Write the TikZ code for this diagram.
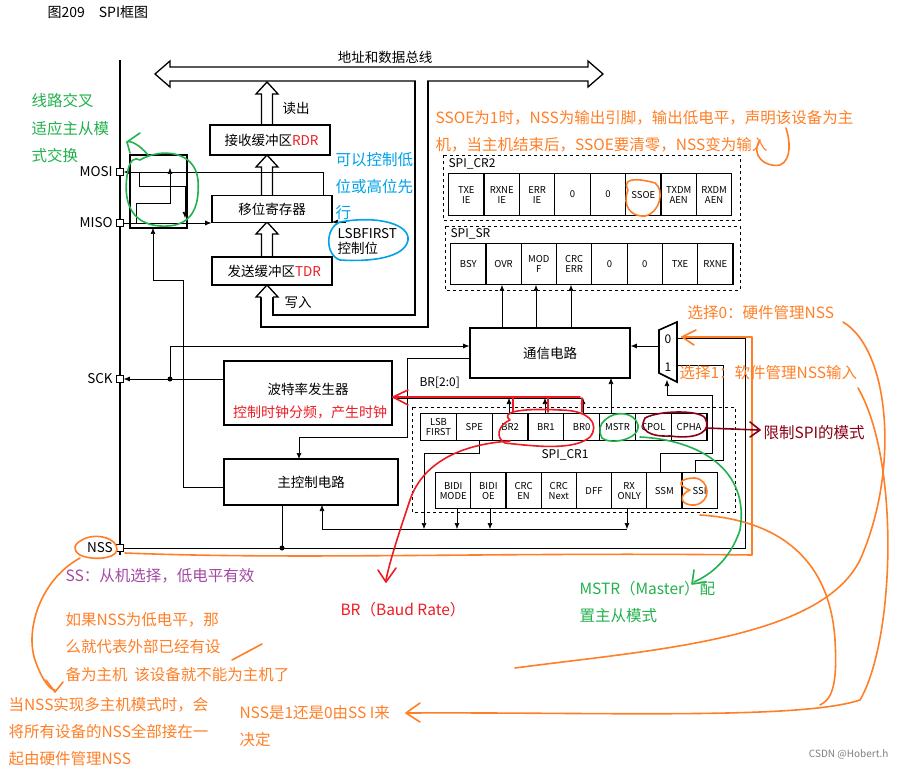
\documentclass[tikz,border=0pt]{standalone}
\usepackage{fontspec}
\setmainfont{Noto Sans CJK SC}
\usetikzlibrary{arrows.meta}
\definecolor{org}{HTML}{FF7F27}
\definecolor{grn}{HTML}{22B14C}
\definecolor{blu}{HTML}{00A2E8}
\definecolor{rd}{HTML}{ED1C24}
\definecolor{pur}{HTML}{A349A4}
\definecolor{drd}{HTML}{880015}
\newcommand\hollowup[3]{\draw[line width=1.3pt,fill=white] (#1-5.5,#2) -- (#1-5.5,#3+12) -- (#1-11,#3+12) -- (#1,#3) -- (#1+11,#3+12) -- (#1+5.5,#3+12) -- (#1+5.5,#2);}
\newcommand\cellrow[5]{% x0, y0, w, h, list
  \foreach \t [count=\i from 0] in {#5}{%
    \node[cell,minimum width=#3pt,minimum height=#4pt,anchor=north west] at (#1+\i*#3,#2) {\t};}}
\begin{document}
\begin{tikzpicture}[x=1pt,y=-1pt,
  box/.style={draw,line width=1.6pt,fill=white,inner sep=0pt},
  lbl/.style={font=\fontsize{13.5}{15}\selectfont},
  cell/.style={draw,line width=1.2pt,inner sep=0pt,align=center,font=\fontsize{9.5}{10}\selectfont},
  dashbox/.style={draw,dashed,line width=0.6pt},
  ln/.style={line width=0.6pt},
  ar/.style={ln,-{Latex[length=6pt,width=5pt]}},
  pin/.style={draw,fill=white,line width=0.6pt,minimum size=7pt,inner sep=0pt},
  ann/.style={font=\fontsize{15.5}{17}\selectfont,anchor=west},
  fh/.style={line width=1.6pt,line cap=round,line join=round}]
\useasboundingbox (0,0) rectangle (900,770);
\fill[white] (0,0) rectangle (900,770);
\node[anchor=west,font=\fontsize{14}{16}\selectfont] (title) at (44,12) {图209\quad SPI框图};
% left bar
\draw[line width=1.4pt] (120,60) -- (120,555);
% bus
\node[lbl] (bus) at (385,57) {地址和数据总线};
\draw[line width=1.3pt,fill=white] (155,74) -- (170,61) -- (170,67) -- (588,67) -- (588,61) -- (603,74) -- (588,87) -- (588,81) -- (170,81) -- (170,87) -- cycle;
% write pipe
\draw[line width=1.3pt] (261,297) -- (261,327) -- (428,327) -- (428,81);
\draw[line width=1.3pt] (273,297) -- (273,315) -- (415,315) -- (415,81);
\draw[line width=1.3pt,fill=white] (261,297) -- (256,297) -- (267,285) -- (278,297) -- (273,297);
\fill[white] (416,79) rectangle (427,83);
\hollowup{267}{125}{82}
\hollowup{267}{196}{155}
\hollowup{267}{257}{222}
\node[lbl] (rd) at (296,108) {读出};
\node[lbl] (wr) at (298,302) {写入};
% register boxes
\node[box,minimum width=120pt,minimum height=30pt] (rdr) at (270,140) {};
\node[box,minimum width=120pt,minimum height=27pt,lbl] (sr) at (272,209) {移位寄存器};
\node[box,minimum width=120pt,minimum height=28pt] (tdr) at (272,271) {};
\node[lbl,anchor=west] (rdrt) at (221,140) {接收缓冲区\textcolor{rd}{RDR}};
\node[lbl,anchor=west] (tdrt) at (224,271) {发送缓冲区\textcolor{rd}{TDR}};
% cross box
\node[box,minimum width=57pt,minimum height=73pt] (cx) at (158.5,191.5) {};
\node[pin,label={[lbl]left:MOSI}] (mosi) at (120,172) {};
\node[pin,label={[lbl]left:MISO}] (miso) at (120,223) {};
\node[pin,label={[lbl]left:SCK}] (sck) at (120,379) {};
\node[pin,label={[lbl]left:NSS}] (nss) at (120,548) {};
\coordinate (c1) at (323,172);
\draw[ar] (323,196) -- (c1) -- (mosi.east) ;
\draw[ar] (miso.east) -- (sr.west |- miso);
\draw[ar] (136,223) -- (136,203) -- (170,203) -- (170,168);
\draw[ar] (139,173) -- (139,186) -- (185,186) -- (185,218);
\coordinate (lsbin) at (346,222);
\draw[ar] (lsbin) -- (332,222);
\node[lbl,align=left,anchor=west] (lsb) at (334,241) {LSBFIRST\\控制位};
\draw[ar] (183,487) -- (183,280) -- (153,280) -- (153,228);
% baud, main ctrl, comm
\node[box,minimum width=168pt,minimum height=64pt,lbl] (baud) at (308,393) {\raisebox{8pt}{波特率发生器}};
\node[box,minimum width=174pt,minimum height=46pt,lbl] (mc) at (311,482) {主控制电路};
\node[box,minimum width=160pt,minimum height=50pt,lbl] (com) at (550,353) {通信电路};
\draw[ar] (baud.west |- sck) -- (sck.east);
\fill (170,379) circle (2.5pt);
\draw[ar] (170,379) -- (170,346) -- (com.west |- 0,346);
\draw[ln] (183,487) -- (mc.west |- 0,487);
\draw[ln] (nss.east) -- (745,548) -- (745,338);
\fill (282,548) circle (2.5pt);
\draw[ln] (282,505) -- (282,548);
\draw[ar] (470,358) -- (407,358) -- (407,437) -- (299,437) -- (299,459);
% mux
\draw[line width=1.6pt,fill=white] (659,330) -- (677,322) -- (677,382) -- (659,373) -- cycle;
\node[font=\fontsize{12}{12}\selectfont] (m0) at (668,339) {0};
\node[font=\fontsize{12}{12}\selectfont] (m1) at (668,367) {1};
\draw[ar] (659,346) -- (com.east |- 0,346);
\draw[ln] (745,338) -- (677,338);
% CR2
\draw[dashbox] (443,155) rectangle (740,220);
\node[anchor=west,font=\fontsize{12}{12}\selectfont] (cr2) at (445,164) {SPI\_CR2};
\cellrow{448}{173}{35.4}{42}{{TXE\\IE},{RXNE\\IE},{ERR\\IE},0,0,SSOE,{TXDM\\AEN},{RXDM\\AEN}}
% SR
\draw[dashbox] (445,226) rectangle (740,290);
\node[anchor=west,font=\fontsize{12}{12}\selectfont] (srl) at (447,234) {SPI\_SR};
\cellrow{450}{243}{35.3}{41}{BSY,OVR,{MOD\\F},{CRC\\ERR},0,0,TXE,RXNE}
\foreach \x in {502,536,571} \draw[ar] (\x,328) -- (\x,285);
% CR1
\draw[dashbox] (412,407) rectangle (735,512);
\node[font=\fontsize{12}{12}\selectfont] (cr1) at (565,455) {SPI\_CR1};
\cellrow{420}{413}{35.8}{27}{{LSB\\FIRST},SPE,BR2,BR1,BR0,MSTR,CPOL,CPHA}
\cellrow{435}{472}{35.2}{36}{{BIDI\\MODE},{BIDI\\OE},{CRC\\EN},{CRC\\Next},DFF,{RX\\ONLY},SSM,SSI}
\draw[ar] (611,413) -- (611,378);
\node[anchor=west,font=\fontsize{12}{12}\selectfont] (brl) at (416,383) {BR[2:0]};
\draw[ar] (583,398) -- (baud.east |- 0,398);
\foreach \x in {509,545,583} \draw[ar] (\x,413) -- (\x,398);
\draw[ar] (479,440) -- (479,453) -- (424,453) -- (424,529);
\draw[ar] (457,508) -- (457,529);
\draw[ar] (490,508) -- (490,529);
\draw[ar] (627,508) -- (627,529);
\draw[ar] (627,529) -- (322,529) -- (322,505);
\draw[ar] (660,472) -- (660,453) -- (712,453) -- (712,395) -- (667,395) -- (667,380);
\draw[ln] (695,472) -- (695,460) -- (723,460) -- (723,365) -- (677,365);
% ---------- annotations ----------
\node[ann,text=grn] (g1) at (28,101) {线路交叉};
\node[ann,text=grn] (g2) at (28,129) {适应主从模};
\node[ann,text=grn] (g3) at (28,156) {式交换};
\draw[fh,grn] (140,160) .. controls (160,148) and (195,150) .. (198,180) .. controls (200,210) and (190,228) .. (160,226) .. controls (130,224) and (122,200) .. (128,170) .. controls (130,160) and (135,157) .. (140,160);
\draw[fh,grn] (148,155) .. controls (140,145) and (130,140) .. (127,142);
\draw[fh,grn] (127,142) -- (140,133);
\draw[fh,grn] (127,142) -- (130,153);
\node[ann,text=blu] (b1) at (332,160) {可以控制低};
\node[ann,text=blu] (b2) at (332,187) {位或高位先};
\node[ann,text=blu] (b3) at (332,213) {行};
\draw[fh,blu] (340,222) .. controls (380,215) and (410,225) .. (408,240) .. controls (405,258) and (370,262) .. (340,260) .. controls (325,255) and (325,228) .. (340,222);
\node[ann,text=org] (o1) at (432,118) {SSOE为1时，NSS为输出引脚，输出低电平，声明该设备为主};
\node[ann,text=org] (o2) at (432,145) {机，当主机结束后，SSOE要清零，NSS变为输入};
\draw[fh,org] (760,140) .. controls (750,155) and (765,168) .. (780,165) .. controls (792,160) and (790,140) .. (786,128);
\draw[fh,org] (628,190) .. controls (620,175) and (645,180) .. (655,183) .. controls (665,190) and (660,213) .. (645,216) .. controls (630,217) and (622,205) .. (628,190);
\draw[fh,org] (690,490) .. controls (675,485) and (680,478) .. (695,478) .. controls (710,480) and (712,502) .. (695,505) .. controls (680,506) and (678,495) .. (690,490);
\node[ann,text=org] (s0) at (684,313) {选择0：硬件管理NSS};
\node[ann,text=org] (s1) at (676,373) {选择1：软件管理NSS输入};
\draw[fh,org] (82,540) .. controls (95,532) and (118,538) .. (117,550) .. controls (115,560) and (90,560) .. (80,555) .. controls (72,550) and (74,544) .. (82,540);
\draw[fh,org] (125,553) .. controls (300,560) and (500,552) .. (752,555) -- (752,337) -- (682,337);
\draw[fh,org] (696,330) -- (682,337) -- (694,345);
\draw[fh,org] (843,322) .. controls (890,350) and (900,470) .. (860,560) .. controls (820,640) and (650,650) .. (515,668);
\draw[fh,org] (858,388) .. controls (900,460) and (895,640) .. (860,700) .. controls (800,720) and (600,712) .. (408,713);
\draw[fh,org] (420,703) -- (406,713) -- (420,722);
\draw[fh,org] (700,515) .. controls (780,520) and (830,560) .. (835,640) .. controls (838,690) and (830,700) .. (820,705);
\draw[fh,org] (80,558) .. controls (40,580) and (25,630) .. (35,660) .. controls (42,680) and (50,690) .. (55,690);
\draw[fh,org] (46,680) -- (55,692) -- (63,682);
\draw[fh,org] (232,660) -- (262,644);
\node[ann,text=pur] (pp) at (62,576) {SS：从机选择，低电平有效};
\node[ann,text=org] (o3) at (62,620) {如果NSS为低电平，那};
\node[ann,text=org] (o4) at (62,647) {么就代表外部已经有设};
\node[ann,text=org] (o5) at (62,675) {备为主机\ \ 该设备就不能为主机了};
\node[ann,text=org] (o6) at (5,705) {当NSS实现多主机模式时，会};
\node[ann,text=org] (o7) at (5,732) {将所有设备的NSS全部接在一};
\node[ann,text=org] (o8) at (5,759) {起由硬件管理NSS};
\node[ann,text=org] (o9) at (236,713) {NSS是1还是0由SS I来};
\node[ann,text=org] (o10) at (236,740) {决定};
% red
\node[text=rd,font=\fontsize{14}{16}\selectfont,anchor=center] (rb) at (310,412) {控制时钟分频，产生时钟};
\draw[fh,rd] (510,420) .. controls (500,412) and (520,408) .. (560,410) .. controls (590,410) and (600,425) .. (590,437) .. controls (575,450) and (540,447) .. (505,443) .. controls (495,438) and (498,425) .. (510,420);
\draw[fh,rd] (393,397) -- (580,397);
\draw[fh,rd] (408,390) -- (393,397) -- (408,405);
\foreach \x in {513,548,582} \draw[fh,rd] (\x,412) -- (\x,398);
\draw[fh,rd] (510,441) .. controls (450,445) and (420,470) .. (410,500) .. controls (400,530) and (390,560) .. (386,580);
\draw[fh,rd] (378,570) -- (386,582) -- (396,568);
\node[ann,text=rd,anchor=center] (br) at (403,610) {BR（Baud Rate）};
% green MSTR
\draw[fh,grn] (605,420) .. controls (615,410) and (635,412) .. (638,425) .. controls (640,440) and (610,445) .. (602,438) .. controls (598,430) and (600,424) .. (605,420);
\draw[fh,grn] (640,437) .. controls (700,440) and (750,470) .. (740,530) .. controls (730,560) and (710,575) .. (694,582);
\draw[fh,grn] (694,570) -- (692,584) -- (706,582);
\node[ann,text=grn] (gm1) at (576,589) {MSTR（Master）配};
\node[ann,text=grn] (gm2) at (576,616) {置主从模式};
% dark red CPOL/CPHA
\draw[fh,drd] (645,418) .. controls (660,410) and (700,410) .. (705,418) .. controls (712,430) and (700,440) .. (670,436) .. controls (650,437) and (638,430) .. (645,418);
\draw[fh,drd] (706,428) -- (758,430);
\draw[fh,drd] (750,422) -- (760,430) -- (750,437);
\node[ann,text=drd] (lim) at (760,433) {限制SPI的模式};
\node[anchor=east,text=gray,font=\fontsize{10}{12}\selectfont] (csdn) at (892,754) {CSDN @Hobert.h};
\end{tikzpicture}
\end{document}
